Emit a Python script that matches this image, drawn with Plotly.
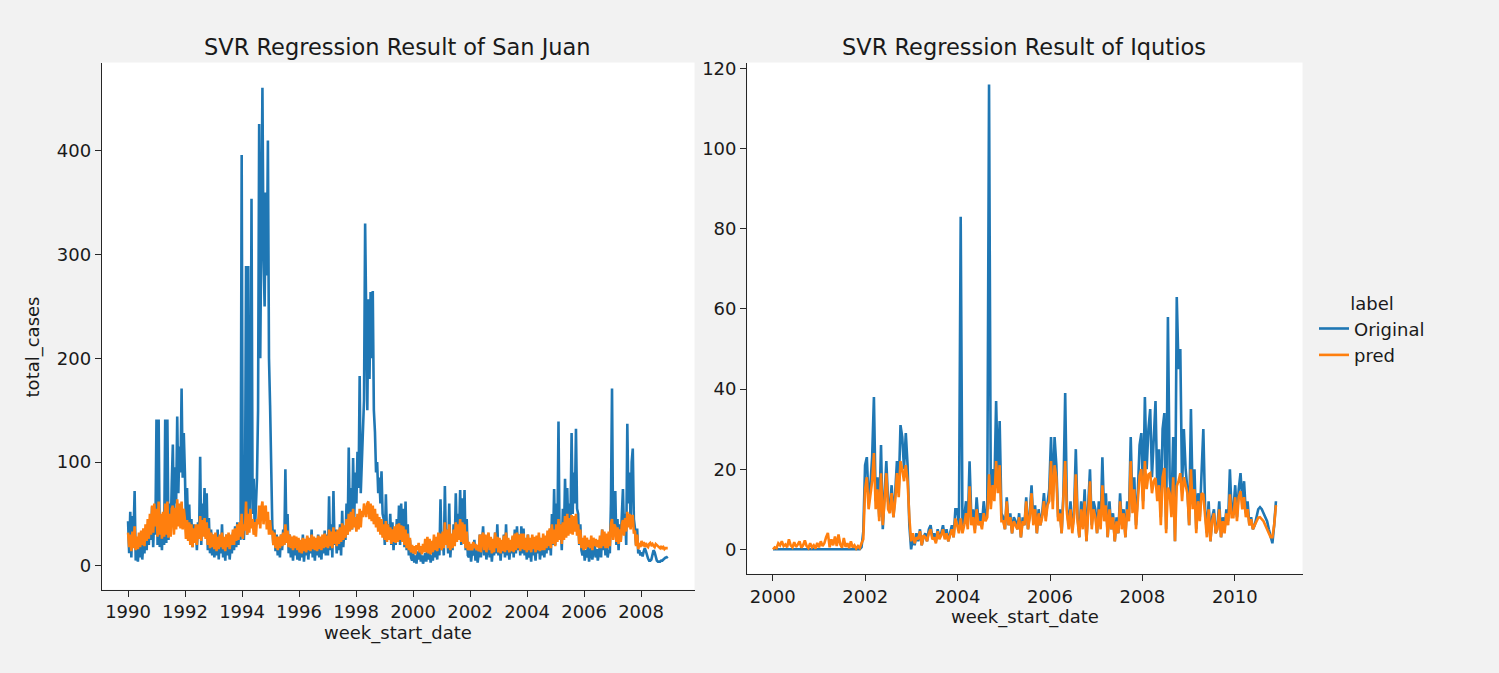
import pandas as pd
import plotly.graph_objects as go

# ---------------- San Juan (bi-weekly samples, 1990 -> 2008) ----------------
sj_original = [
    43, 12, 52, 8, 48, 30, 72, 5, 25, 4, 20, 8, 30, 6, 22, 12, 35, 15, 40, 20, 45, 25, 57, 18, 50, 30,
    141, 20, 141, 18, 40, 15, 45, 20, 141, 22, 141, 25, 60, 30, 80, 117, 40, 95, 60, 144, 70, 115, 90, 171, 85, 128,
    91, 40, 75, 35, 59, 22, 45, 18, 40, 25, 38, 15, 42, 30, 105, 20, 60, 35, 75, 28, 70, 15, 46, 12, 35, 10,
    30, 8, 25, 10, 35, 6, 28, 12, 40, 8, 22, 5, 30, 10, 25, 6, 20, 12, 32, 15, 38, 18, 42, 20, 40, 25,
    396, 40, 25, 60, 289, 30, 289, 45, 80, 354, 50, 84, 30, 60, 84, 150, 426, 200, 304, 461, 300, 250, 360, 280, 410, 200,
    155, 84, 40, 20, 35, 14, 30, 10, 25, 8, 30, 15, 35, 20, 93, 25, 50, 12, 30, 8, 20, 5, 25, 10, 22, 6,
    25, 5, 20, 8, 30, 4, 18, 10, 28, 6, 22, 12, 35, 8, 20, 5, 25, 10, 30, 8, 22, 6, 28, 12, 34, 10,
    30, 10, 67, 15, 40, 8, 72, 20, 35, 12, 30, 15, 40, 10, 53, 18, 35, 25, 60, 30, 114, 40, 75, 35, 104, 45,
    90, 60, 110, 75, 183, 70, 95, 120, 160, 330, 200, 150, 257, 180, 264, 200, 265, 150, 129, 90, 100, 70, 85, 60, 91, 50,
    45, 20, 69, 30, 40, 25, 50, 20, 42, 15, 35, 20, 45, 25, 58, 20, 60, 25, 55, 18, 62, 15, 40, 10, 25, 8,
    5, 12, 3, 10, 2, 14, 6, 18, 4, 10, 2, 8, 12, 4, 20, 6, 15, 3, 10, 5, 25, 8, 18, 6, 30, 10,
    64, 15, 30, 10, 77, 20, 35, 12, 60, 8, 28, 15, 40, 20, 70, 25, 50, 30, 73, 20, 65, 25, 73, 15, 45, 10,
    8, 20, 4, 15, 10, 25, 5, 18, 3, 12, 30, 8, 20, 38, 10, 25, 6, 15, 28, 8, 22, 4, 18, 10, 32, 12,
    40, 10, 25, 5, 20, 12, 30, 8, 40, 10, 22, 6, 18, 12, 28, 8, 35, 12, 38, 15, 30, 10, 38, 12, 36, 10,
    20, 6, 30, 8, 15, 4, 25, 10, 18, 5, 22, 12, 28, 6, 16, 10, 24, 8, 20, 12, 30, 15, 35, 10, 50, 20,
    74, 20, 60, 30, 139, 25, 40, 15, 55, 30, 84, 40, 75, 35, 60, 45, 128, 50, 90, 60, 132, 55, 50, 20, 40, 15,
    10, 20, 5, 15, 8, 22, 4, 12, 18, 6, 14, 24, 8, 16, 5, 12, 20, 8, 35, 15, 30, 10, 22, 8, 15, 12,
    60, 171, 30, 50, 72, 20, 45, 15, 40, 25, 60, 74, 30, 50, 20, 137, 60, 90, 40, 100, 113, 45, 36, 20, 36, 12,
    15, 10, 13, 9, 14, 17, 14, 10, 7, 5, 5, 6, 10, 15, 13, 8, 5, 4, 4, 4, 5, 5, 6, 7, 8, 8, 9,
]
sj_pred = [
    32, 18, 30, 14, 33, 17, 38, 15, 28, 16, 32, 18, 34, 20, 36, 19, 40, 24, 45, 26, 50, 30, 58, 32, 60, 38,
    55, 28, 62, 30, 50, 26, 52, 28, 60, 30, 62, 27, 50, 28, 55, 58, 30, 56, 35, 64, 38, 60, 36, 62, 35, 55,
    45, 26, 44, 24, 42, 20, 40, 18, 36, 22, 40, 20, 40, 26, 48, 24, 44, 28, 46, 26, 42, 20, 36, 17, 32, 18,
    30, 16, 32, 14, 28, 16, 30, 18, 32, 16, 28, 14, 30, 18, 32, 16, 30, 20, 35, 20, 36, 24, 40, 25, 42, 28,
    50, 26, 40, 34, 62, 30, 50, 32, 55, 36, 45, 30, 42, 28, 45, 40, 58, 36, 55, 62, 40, 55, 58, 35, 52, 30,
    44, 30, 34, 20, 32, 17, 28, 15, 28, 17, 30, 19, 32, 20, 40, 22, 34, 18, 30, 17, 28, 15, 29, 17, 28, 15,
    27, 13, 25, 12, 27, 14, 26, 13, 29, 15, 27, 14, 30, 16, 28, 15, 27, 14, 29, 16, 28, 15, 30, 17, 31, 18,
    29, 17, 35, 19, 33, 17, 37, 21, 33, 19, 35, 21, 37, 23, 41, 25, 39, 27, 45, 30, 50, 33, 52, 35, 55, 37,
    47, 33, 50, 35, 55, 37, 53, 47, 60, 55, 47, 60, 62, 45, 60, 43, 58, 40, 55, 37, 50, 33, 47, 30, 45, 27,
    40, 25, 43, 23, 40, 25, 37, 21, 35, 23, 38, 22, 40, 23, 41, 25, 39, 23, 38, 20, 35, 17, 31, 15, 27, 13,
    20, 12, 19, 11, 20, 15, 22, 13, 19, 11, 21, 13, 26, 13, 28, 12, 26, 11, 24, 13, 30, 15, 28, 14, 32, 17,
    31, 15, 33, 17, 42, 20, 35, 17, 40, 15, 31, 17, 35, 19, 42, 23, 40, 25, 45, 23, 42, 21, 40, 17, 33, 15,
    23, 15, 21, 15, 23, 17, 21, 15, 20, 14, 30, 13, 28, 32, 15, 30, 13, 26, 32, 15, 28, 12, 26, 13, 32, 17,
    28, 13, 27, 12, 25, 14, 29, 13, 32, 15, 27, 13, 25, 14, 29, 13, 31, 15, 32, 17, 30, 14, 31, 16, 31, 15,
    27, 13, 30, 15, 27, 13, 30, 16, 28, 13, 29, 15, 32, 14, 27, 15, 31, 15, 29, 17, 34, 19, 36, 17, 40, 21,
    35, 19, 40, 23, 45, 25, 40, 21, 42, 25, 48, 27, 50, 29, 46, 31, 49, 30, 48, 33, 50, 29, 40, 21, 35, 17,
    27, 15, 29, 16, 27, 18, 25, 17, 29, 15, 27, 19, 26, 18, 25, 17, 29, 17, 35, 19, 33, 17, 31, 17, 33, 19,
    40, 45, 25, 40, 38, 23, 37, 21, 35, 23, 40, 44, 29, 46, 33, 52, 37, 50, 35, 48, 48, 31, 34, 19, 30, 16,
    22, 18, 24, 19, 23, 18, 22, 19, 18, 21, 22, 20, 21, 19, 18, 21, 20, 19, 18, 17, 19, 17, 18, 16, 17, 17, 17,
]
sj_start = "1990-01-01"

# ---------------- Iquitos (bi-weekly samples, 2000 -> 2010) ----------------
iq_original = [
    0, 0, 0, 0, 0, 0, 0, 0, 0, 0, 0, 0, 0, 0, 0, 0, 0, 0, 0, 0, 0, 0, 0, 0, 0, 0,
    0, 0, 0, 0, 0, 0, 0, 0, 0, 0, 0, 0, 0, 0, 0, 0, 0, 0, 0, 0, 0, 0, 0, 0, 0.5, 4.5,
    21, 23, 12, 16, 23, 38, 12, 18, 8, 26, 5, 14, 22, 12, 10, 16, 8, 14, 22, 15, 31, 28, 20, 29, 21, 6,
    0, 3, 1, 4, 2, 5, 1, 3, 4, 2, 5, 6, 3, 4, 2, 5, 3, 4, 6, 3, 5, 2, 4, 6, 3, 10,
    10, 6, 83, 5, 8, 12, 6, 22, 8, 10, 5, 13, 7, 9, 6, 12, 8, 10, 116, 12, 20, 15, 37, 18, 32, 9,
    8, 5, 13, 6, 9, 4, 8, 7, 5, 9, 3, 8, 6, 13, 5, 9, 16, 7, 11, 4, 10, 6, 9, 14, 8, 12,
    15, 28, 12, 28, 21, 8, 10, 4, 14, 39, 10, 6, 12, 5, 9, 25, 8, 3, 12, 6, 15, 2, 10, 20, 6, 12,
    10, 4, 12, 6, 23, 8, 14, 3, 12, 5, 9, 2, 8, 4, 14, 6, 10, 3, 12, 8, 28, 10, 18, 6, 14, 26,
    29, 12, 38, 20, 30, 35, 18, 28, 37, 15, 25, 8, 30, 34, 5, 58, 18, 10, 28, 2, 63, 45, 50, 15, 30, 20,
    15, 6, 35, 12, 20, 5, 14, 8, 18, 30, 10, 4, 12, 2, 8, 10, 4, 6, 12, 3, 8, 5, 10, 7, 20, 9,
    10, 16, 8, 15, 19, 12, 17, 9, 12, 6, 8, 5, 6, 8, 10, 10.5, 10, 9, 8, 7, 5, 3, 1.5, 6, 12,
]
iq_pred = [
    0, 0.5, 0.3, 1.5, 1, 2, 0.8, 1.2, 0.5, 2.5, 1, 0.5, 1.8, 0.6, 1.2, 2, 0.4, 1, 2.2, 0.8, 0.3, 1.5, 0.5, 1, 0.2, 1.6,
    0.5, 2, 0.8, 1.5, 3, 4.1, 0.5, 2.5, 1, 3.2, 0.8, 3.7, 1.2, 0.4, 2.8, 0.6, 1.5, 0.3, 2, 0.5, 1, 0.2, 0.8, 0.3, 1.5, 2.5,
    15, 18, 10, 14, 17, 24, 10, 15, 7, 19, 6, 12, 19, 10, 9, 14, 8, 12, 19, 13, 22, 20, 17, 21, 17, 8,
    2, 4, 1.5, 3, 2.5, 4.5, 1, 3.5, 3, 2, 4, 5, 2.5, 3, 1.5, 4.5, 2.5, 3.5, 5, 2.5, 4, 2, 3.5, 5, 3, 7.7,
    6, 4, 7.7, 4, 6, 9, 5, 15.7, 6, 8, 4, 10, 6, 7, 5, 9, 7, 8, 18.7, 10, 16, 12, 22, 14, 21, 7,
    7, 5, 12, 6, 8, 4, 7, 6, 5, 8, 3, 7, 6, 12, 5, 8, 14, 6, 10, 4, 9, 6, 8, 12, 7, 11,
    12, 22, 10, 21, 18, 7, 9, 4, 12, 22, 9, 5, 10, 4, 8, 18.7, 7, 3, 10, 5, 12, 2, 9, 17, 5, 10,
    8, 4, 10, 5, 16, 7, 11, 3, 10, 5, 8, 2, 7, 4, 12, 5, 9, 3, 10, 7, 22, 9, 15, 5, 12, 18.3,
    20, 10, 22, 15, 18.7, 19, 14, 17, 17.8, 12, 16, 6, 18, 20.3, 4, 15.4, 14, 8, 18, 2, 15.8, 17, 19, 12, 18, 16,
    14, 6, 20, 10, 15, 4, 12, 7, 14, 13.7, 9, 3, 10, 2, 7, 9, 4, 5, 10, 3, 7, 4, 9, 6, 13.7, 8,
    8, 13, 7, 13, 14.5, 10, 13, 8, 10, 6, 7.5, 5, 6, 7, 7.9, 8, 7.5, 7, 6, 5, 4, 3, 3, 6, 11,
]
iq_start = "2000-01-03"

series_names = ["Original", "pred"]
series_colors = ["#1f77b4", "#ff7f0e"]
sj_year_ticks = list(range(1990, 2009, 2))
iq_year_ticks = list(range(2000, 2011, 2))
sj_y_ticks = [0, 100, 200, 300, 400]
iq_y_ticks = [0, 20, 40, 60, 80, 100, 120]

sj_dates = pd.date_range(sj_start, periods=len(sj_original), freq="14D")
iq_dates = pd.date_range(iq_start, periods=len(iq_original), freq="14D")

W, H = 1499, 673
FONT = "DejaVu Sans"
TXT = "#1a1a1a"
AX = "#262626"
BG = "#f2f2f2"

fig = go.Figure()
for name, color, ys in zip(series_names, series_colors, [sj_original, sj_pred]):
    fig.add_trace(go.Scatter(x=sj_dates, y=ys, mode="lines", name=name,
                             line=dict(color=color, width=2.6), legendgroup=name,
                             showlegend=True, xaxis="x", yaxis="y"))
for name, color, ys in zip(series_names, series_colors, [iq_original, iq_pred]):
    fig.add_trace(go.Scatter(x=iq_dates, y=ys, mode="lines", name=name,
                             line=dict(color=color, width=2.6), legendgroup=name,
                             showlegend=False, xaxis="x2", yaxis="y2"))

def px_x(p):
    return p / W

def px_y(p):
    return 1 - p / H

TICK = 18
axis_common = dict(showgrid=False, zeroline=False, showline=True, linecolor=AX, linewidth=1.4,
                   ticks="outside", ticklen=6, tickwidth=1.4, tickcolor=AX,
                   tickfont=dict(family=FONT, size=TICK, color=TXT), mirror=False)

fig.update_layout(
    width=W, height=H,
    margin=dict(l=0, r=0, t=0, b=0),
    paper_bgcolor=BG, plot_bgcolor="white",
    font=dict(family=FONT, color=TXT),
    showlegend=True,
    xaxis=dict(domain=[px_x(102), px_x(694.5)], anchor="y",
               range=["1989-02-01", "2009-11-16"],
               tickvals=[f"{y}-01-01" for y in sj_year_ticks],
               ticktext=[str(y) for y in sj_year_ticks], **axis_common),
    yaxis=dict(domain=[px_y(589), px_y(58)], anchor="x", range=[-23, 485.2],
               tickvals=sj_y_ticks, **axis_common),
    xaxis2=dict(domain=[px_x(747.3), px_x(1302.5)], anchor="y2",
                range=["1999-06-14", "2011-06-20"],
                tickvals=[f"{y}-01-01" for y in iq_year_ticks],
                ticktext=[str(y) for y in iq_year_ticks], **axis_common),
    yaxis2=dict(domain=[px_y(573), px_y(58)], anchor="x2", range=[-6.1, 121.5],
                tickvals=iq_y_ticks, **axis_common),
    legend=dict(x=px_x(1314), y=px_y(284), xanchor="left", yanchor="top",
                bgcolor="rgba(0,0,0,0)", borderwidth=0,
                font=dict(family=FONT, size=TICK, color=TXT),
                title=dict(text="label", side="top center",
                           font=dict(family=FONT, size=TICK, color=TXT)),
                tracegroupgap=0),
)

annots = [
    dict(text="SVR Regression Result of San Juan", x=px_x(397.5), y=px_y(42), size=22.5),
    dict(text="SVR Regression Result of Iqutios", x=px_x(1024), y=px_y(42), size=22.5),
    dict(text="week_start_date", x=px_x(398), y=px_y(633), size=TICK),
    dict(text="week_start_date", x=px_x(1025), y=px_y(617), size=TICK),
]
for a in annots:
    fig.add_annotation(text=a["text"], x=a["x"], y=a["y"], xref="paper", yref="paper",
                       xanchor="center", yanchor="middle", showarrow=False,
                       font=dict(family=FONT, size=a["size"], color=TXT))
fig.add_annotation(text="total_cases", x=px_x(33), y=px_y(345), xref="paper", yref="paper",
                   xanchor="center", yanchor="middle", showarrow=False, textangle=-90,
                   font=dict(family=FONT, size=TICK, color=TXT))

fig.write_html(
    "out.html",
    config={"displayModeBar": False},
    post_script="document.body.style.margin='0';document.body.style.padding='0';"
                "document.body.style.background='" + BG + "';",
)
